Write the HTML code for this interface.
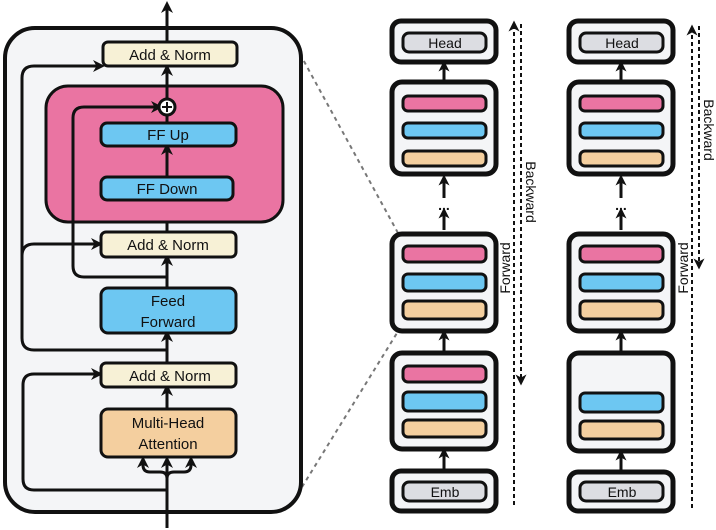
<!DOCTYPE html>
<html><head><meta charset="utf-8"><style>
html,body{margin:0;padding:0;background:#fff;}
svg{display:block;}
text{font-family:"Liberation Sans",Arial,sans-serif;fill:#111;}
</style></head><body>
<svg width="716" height="530" viewBox="0 0 716 530" xmlns="http://www.w3.org/2000/svg">
<defs>
<marker id="ah" markerWidth="12" markerHeight="12" refX="6" refY="6" orient="auto" markerUnits="userSpaceOnUse">
<path d="M0,0 L12,6 L0,12 L3.5,6 Z" fill="#111"/>
</marker>
<marker id="ah2" markerWidth="11" markerHeight="11" refX="5.5" refY="5.5" orient="auto" markerUnits="userSpaceOnUse">
<path d="M0,0 L11,5.5 L0,11 L3,5.5 Z" fill="#111"/>
</marker>
</defs>

<line x1="300" y1="54" x2="398" y2="233" stroke="#777" stroke-width="2" stroke-dasharray="4,4"/>
<line x1="302" y1="487" x2="397" y2="333" stroke="#777" stroke-width="2" stroke-dasharray="4,4"/>

<rect x="5" y="28" width="296" height="484" rx="30" fill="#f4f5f7" stroke="#111" stroke-width="4"/>

<line x1="167" y1="528" x2="167" y2="476" stroke="#111" stroke-width="3"/>
<path d="M167,478 Q167,472 160,472 L150,472 Q143,472 143,465 L143,462" fill="none" stroke="#111" stroke-width="3" marker-end="url(#ah)"/>
<path d="M167,478 Q167,472 174,472 L184,472 Q191,472 191,465 L191,462" fill="none" stroke="#111" stroke-width="3" marker-end="url(#ah)"/>
<line x1="167" y1="476" x2="167" y2="462" stroke="#111" stroke-width="3" marker-end="url(#ah)"/>
<line x1="167" y1="408" x2="167" y2="390" stroke="#111" stroke-width="3" marker-end="url(#ah)"/>
<line x1="167" y1="363" x2="167" y2="336" stroke="#111" stroke-width="3" marker-end="url(#ah)"/>
<line x1="167" y1="288" x2="167" y2="260" stroke="#111" stroke-width="3" marker-end="url(#ah)"/>
<line x1="167" y1="232" x2="167" y2="203" stroke="#111" stroke-width="3" marker-end="url(#ah)"/>
<path d="M167,490 L34,490 Q23,490 23,479 L23,385 Q23,374 34,374 L97,374" fill="none" stroke="#111" stroke-width="3" marker-end="url(#ah)"/>
<path d="M167,350 L34,350 Q22,350 22,338 L22,256 Q22,244 34,244 L97,244" fill="none" stroke="#111" stroke-width="3" marker-end="url(#ah)"/>
<path d="M22,256 L22,78 Q22,66 34,66 L99,66" fill="none" stroke="#111" stroke-width="3" marker-end="url(#ah)"/>

<rect x="46" y="86" width="237" height="136" rx="22" fill="#ea74a2" stroke="#111" stroke-width="3"/>
<line x1="167" y1="177" x2="167" y2="149" stroke="#111" stroke-width="3" marker-end="url(#ah)"/>
<line x1="167" y1="123" x2="167" y2="116" stroke="#111" stroke-width="3"/>
<line x1="167" y1="99" x2="167" y2="70" stroke="#111" stroke-width="3" marker-end="url(#ah)"/>
<line x1="167" y1="41" x2="167" y2="7" stroke="#111" stroke-width="3" marker-end="url(#ah)"/>
<path d="M167,277 L84,277 Q73,277 73,266 L73,118 Q73,107 84,107 L157,107" fill="none" stroke="#111" stroke-width="3" marker-end="url(#ah)"/>
<circle cx="167" cy="107" r="8" fill="#fff" stroke="#111" stroke-width="3"/>
<line x1="162" y1="107" x2="172" y2="107" stroke="#111" stroke-width="2"/>
<line x1="167" y1="102" x2="167" y2="112" stroke="#111" stroke-width="2"/>

<rect x="103" y="42" width="134" height="24" rx="5" fill="#f7f1d6" stroke="#111" stroke-width="3"/>
<text x="170" y="60" font-size="15" text-anchor="middle">Add &amp; Norm</text>
<rect x="101" y="123" width="135" height="23" rx="6" fill="#6dc7f2" stroke="#111" stroke-width="3"/>
<text x="168" y="140" font-size="15" text-anchor="middle">FF Up</text>
<rect x="101" y="177" width="132" height="23" rx="6" fill="#6dc7f2" stroke="#111" stroke-width="3"/>
<text x="167" y="194" font-size="15" text-anchor="middle">FF Down</text>
<rect x="101" y="232" width="135" height="25" rx="5" fill="#f7f1d6" stroke="#111" stroke-width="3"/>
<text x="168" y="250" font-size="15" text-anchor="middle">Add &amp; Norm</text>
<rect x="101" y="288" width="135" height="45" rx="7" fill="#6dc7f2" stroke="#111" stroke-width="3"/>
<text x="168" y="306" font-size="15" text-anchor="middle">Feed</text>
<text x="168" y="327" font-size="15" text-anchor="middle">Forward</text>
<rect x="101" y="363" width="135" height="24" rx="5" fill="#f7f1d6" stroke="#111" stroke-width="3"/>
<text x="170" y="381" font-size="15" text-anchor="middle">Add &amp; Norm</text>
<rect x="101" y="409" width="135" height="48" rx="7" fill="#f4cf9f" stroke="#111" stroke-width="3"/>
<text x="168" y="428" font-size="15" text-anchor="middle">Multi-Head</text>
<text x="168" y="449" font-size="15" text-anchor="middle">Attention</text>

<g id="c1">
<rect x="392" y="21" width="104" height="41" rx="9" fill="#f4f5f7" stroke="#111" stroke-width="5"/>
<rect x="403" y="33" width="83" height="19" rx="6" fill="#dcdde2" stroke="#111" stroke-width="3"/>
<text x="445" y="48" font-size="14" text-anchor="middle">Head</text>
<line x1="444" y1="80" x2="444" y2="66" stroke="#111" stroke-width="3" marker-end="url(#ah2)"/>
<rect x="392" y="82" width="104" height="92" rx="10" fill="#f4f5f7" stroke="#111" stroke-width="5"/>
<rect x="403" y="96" width="83" height="15" rx="5" fill="#ea74a2" stroke="#111" stroke-width="3"/>
<rect x="403" y="123" width="83" height="15" rx="5" fill="#6dc7f2" stroke="#111" stroke-width="3"/>
<rect x="403" y="151" width="83" height="15" rx="5" fill="#f4cf9f" stroke="#111" stroke-width="3"/>
<line x1="444" y1="198" x2="444" y2="180" stroke="#111" stroke-width="3" marker-end="url(#ah2)"/>
<text x="444" y="210" font-size="14" font-weight="bold" text-anchor="middle">...</text>
<line x1="444" y1="230" x2="444" y2="213" stroke="#111" stroke-width="3" marker-end="url(#ah2)"/>
<rect x="392" y="234" width="104" height="97" rx="10" fill="#f4f5f7" stroke="#111" stroke-width="5"/>
<rect x="403" y="246" width="83" height="16" rx="5" fill="#ea74a2" stroke="#111" stroke-width="3"/>
<rect x="403" y="274" width="83" height="17" rx="5" fill="#6dc7f2" stroke="#111" stroke-width="3"/>
<rect x="403" y="301" width="83" height="18" rx="5" fill="#f4cf9f" stroke="#111" stroke-width="3"/>
<line x1="444" y1="352" x2="444" y2="335" stroke="#111" stroke-width="3" marker-end="url(#ah2)"/>
<rect x="392" y="353" width="104" height="96" rx="10" fill="#f4f5f7" stroke="#111" stroke-width="5"/>
<rect x="403" y="366" width="83" height="16" rx="5" fill="#ea74a2" stroke="#111" stroke-width="3"/>
<rect x="403" y="392" width="83" height="19" rx="5" fill="#6dc7f2" stroke="#111" stroke-width="3"/>
<rect x="403" y="420" width="83" height="17" rx="5" fill="#f4cf9f" stroke="#111" stroke-width="3"/>
<line x1="444" y1="470" x2="444" y2="453" stroke="#111" stroke-width="3" marker-end="url(#ah2)"/>
<rect x="392" y="471" width="104" height="40" rx="9" fill="#f4f5f7" stroke="#111" stroke-width="5"/>
<rect x="403" y="482" width="83" height="19" rx="6" fill="#dcdde2" stroke="#111" stroke-width="3"/>
<text x="445" y="497" font-size="14" text-anchor="middle">Emb</text>
</g>
<line x1="514" y1="505" x2="514" y2="26" stroke="#111" stroke-width="2" stroke-dasharray="4,3" marker-end="url(#ah2)"/>
<line x1="521" y1="24" x2="521" y2="380" stroke="#111" stroke-width="2" stroke-dasharray="4,3" marker-end="url(#ah2)"/>
<text transform="translate(526,192) rotate(90)" font-size="14" text-anchor="middle">Backward</text>
<text transform="translate(510,268) rotate(-90)" font-size="14" text-anchor="middle">Forward</text>

<g transform="translate(177,0)">
<rect x="392" y="21" width="104" height="41" rx="9" fill="#f4f5f7" stroke="#111" stroke-width="5"/>
<rect x="403" y="33" width="83" height="19" rx="6" fill="#dcdde2" stroke="#111" stroke-width="3"/>
<text x="445" y="48" font-size="14" text-anchor="middle">Head</text>
<line x1="444" y1="80" x2="444" y2="66" stroke="#111" stroke-width="3" marker-end="url(#ah2)"/>
<rect x="392" y="82" width="104" height="92" rx="10" fill="#f4f5f7" stroke="#111" stroke-width="5"/>
<rect x="403" y="96" width="83" height="15" rx="5" fill="#ea74a2" stroke="#111" stroke-width="3"/>
<rect x="403" y="123" width="83" height="15" rx="5" fill="#6dc7f2" stroke="#111" stroke-width="3"/>
<rect x="403" y="151" width="83" height="15" rx="5" fill="#f4cf9f" stroke="#111" stroke-width="3"/>
<line x1="444" y1="198" x2="444" y2="180" stroke="#111" stroke-width="3" marker-end="url(#ah2)"/>
<text x="444" y="210" font-size="14" font-weight="bold" text-anchor="middle">...</text>
<line x1="444" y1="230" x2="444" y2="213" stroke="#111" stroke-width="3" marker-end="url(#ah2)"/>
<rect x="392" y="234" width="104" height="97" rx="10" fill="#f4f5f7" stroke="#111" stroke-width="5"/>
<rect x="403" y="246" width="83" height="16" rx="5" fill="#ea74a2" stroke="#111" stroke-width="3"/>
<rect x="403" y="274" width="83" height="17" rx="5" fill="#6dc7f2" stroke="#111" stroke-width="3"/>
<rect x="403" y="301" width="83" height="18" rx="5" fill="#f4cf9f" stroke="#111" stroke-width="3"/>
<line x1="444" y1="352" x2="444" y2="335" stroke="#111" stroke-width="3" marker-end="url(#ah2)"/>
<rect x="392" y="353" width="104" height="98" rx="10" fill="#f4f5f7" stroke="#111" stroke-width="5"/>
<rect x="403" y="393" width="83" height="19" rx="5" fill="#6dc7f2" stroke="#111" stroke-width="3"/>
<rect x="403" y="421" width="83" height="18" rx="5" fill="#f4cf9f" stroke="#111" stroke-width="3"/>
<line x1="444" y1="471" x2="444" y2="455" stroke="#111" stroke-width="3" marker-end="url(#ah2)"/>
<rect x="392" y="472" width="104" height="39" rx="9" fill="#f4f5f7" stroke="#111" stroke-width="5"/>
<rect x="403" y="482" width="83" height="19" rx="6" fill="#dcdde2" stroke="#111" stroke-width="3"/>
<text x="445" y="497" font-size="14" text-anchor="middle">Emb</text>
</g>
<line x1="692" y1="508" x2="692" y2="30" stroke="#111" stroke-width="2" stroke-dasharray="4,3" marker-end="url(#ah2)"/>
<line x1="699" y1="26" x2="699" y2="264" stroke="#111" stroke-width="2" stroke-dasharray="4,3" marker-end="url(#ah2)"/>
<text transform="translate(704,130) rotate(90)" font-size="14" text-anchor="middle">Backward</text>
<text transform="translate(688,268) rotate(-90)" font-size="14" text-anchor="middle">Forward</text>
</svg>
</body></html>
